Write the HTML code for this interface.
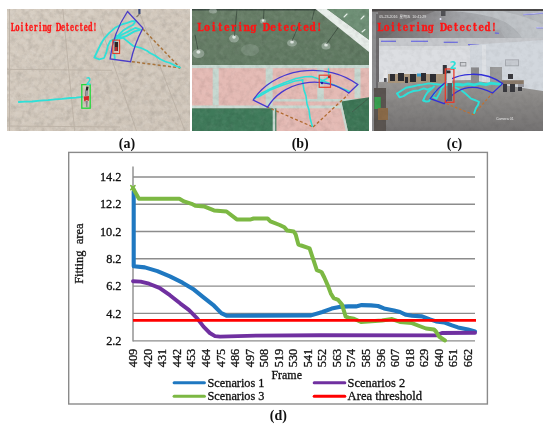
<!DOCTYPE html>
<html><head><meta charset="utf-8"><title>Loitering detection figure</title>
<style>html,body{margin:0;padding:0;background:#fff;width:550px;height:429px;overflow:hidden}svg{display:block}</style>
</head><body>
<svg width="550" height="429" viewBox="0 0 550 429">

<defs>
<filter id="nzd" x="0" y="0" width="1" height="1" color-interpolation-filters="sRGB">
<feTurbulence type="fractalNoise" baseFrequency="0.18" numOctaves="3" seed="7"/>
<feColorMatrix type="matrix" values="0 0 0 0 0  0 0 0 0 0  0 0 0 0 0  0.32 0 0 0 -0.13"/>
</filter>
<filter id="nzl" x="0" y="0" width="1" height="1" color-interpolation-filters="sRGB">
<feTurbulence type="fractalNoise" baseFrequency="0.2" numOctaves="3" seed="21"/>
<feColorMatrix type="matrix" values="0 0 0 0 1  0 0 0 0 1  0 0 0 0 1  0.32 0 0 0 -0.13"/>
</filter>
<linearGradient id="ga" x1="0" y1="0" x2="1" y2="1">
<stop offset="0" stop-color="#d8d0c4" stop-opacity="0.3"/>
<stop offset="1" stop-color="#c0b6aa" stop-opacity="0.3"/>
</linearGradient>
<linearGradient id="gb" x1="0" y1="0" x2="1" y2="1">
<stop offset="0" stop-color="#7a8870" stop-opacity="0.25"/>
<stop offset="1" stop-color="#4e6e52" stop-opacity="0.3"/>
</linearGradient>
<linearGradient id="gc1" x1="0" y1="0" x2="1" y2="0">
<stop offset="0" stop-color="#6e6a6a"/>
<stop offset="0.28" stop-color="#868486"/>
<stop offset="0.52" stop-color="#a2a4a8"/>
<stop offset="1" stop-color="#b8bcc0"/>
</linearGradient>
<linearGradient id="gc3" x1="0" y1="0" x2="0" y2="1">
<stop offset="0" stop-color="#9a9896"/>
<stop offset="0.35" stop-color="#8c8a88"/>
<stop offset="1" stop-color="#747272"/>
</linearGradient>
<linearGradient id="gc2" x1="0" y1="0" x2="0" y2="1">
<stop offset="0" stop-color="#808080" stop-opacity="0"/>
<stop offset="1" stop-color="#6a6a6a" stop-opacity="0.8"/>
</linearGradient>
</defs>
<rect width="550" height="429" fill="#fff"/>

<clipPath id="ca"><rect x="7" y="9" width="183" height="122"/></clipPath>
<g clip-path="url(#ca)">
<rect x="7" y="9" width="183" height="122" fill="#d4cabe"/>
<rect x="7" y="9" width="183" height="122" fill="url(#ga)"/>
<rect x="7" y="9" width="183" height="122" filter="url(#nzd)" opacity="0.7"/>
<rect x="7" y="9" width="183" height="122" filter="url(#nzl)"/>
<g stroke="#b9afa3" stroke-width="1" fill="none" opacity="0.8">
<line x1="7" y1="69.3" x2="112" y2="70.3"/>
<line x1="7" y1="126" x2="120" y2="127"/>
<line x1="62.8" y1="9" x2="74.7" y2="131"/>
<line x1="9.5" y1="9" x2="9.5" y2="131"/>
<line x1="138" y1="9" x2="185" y2="131"/>
<line x1="100" y1="25" x2="136.5" y2="131"/>
</g>
<text transform="translate(10.7,30.7) scale(0.6,1)" x="3.79 11.38 18.96 26.54 34.12 41.71 49.29 56.88 64.46 72.04 79.62 87.21 94.79 102.38 109.96 117.54 125.13 132.71 140.29" y="0" text-anchor="middle" font-family="DejaVu Serif, serif" font-weight="bold" font-size="10.8" fill="#ff1414" stroke="#ff1414" stroke-width="0.35">Loitering Detected!</text>
<!-- dashed lines -->
<g stroke="#a8743c" stroke-width="1.5" stroke-dasharray="3 2.2" fill="none">
<line x1="142.9" y1="29" x2="180.2" y2="67.9"/>
<line x1="131.9" y1="61.7" x2="180.2" y2="67.9"/>
</g>
<!-- cyan trajectories -->
<g stroke="#2ee0d8" stroke-width="1.8" fill="none" stroke-linejoin="round" stroke-linecap="round">
<polyline points="18.8,102.0 25.0,101.6 32.0,101.5 40.0,100.6 48.0,100.2 55.0,99.3 62.0,98.9 70.0,98.0 76.0,97.6 82.3,96.9"/>
<polyline points="180.0,67.5 176.0,66.0 170.0,63.0 165.0,61.5 160.0,59.0 155.0,55.5 150.0,53.0 147.0,50.8 140.5,47.8 133.2,46.0 127.2,41.1 123.5,38.1 116.2,35.6"/>
<polyline points="94.4,57.5 97.0,52.0 99.3,47.2 102.0,42.0 104.1,38.7 109.0,33.2 115.0,27.8 121.1,24.7 127.2,22.9 132.0,21.1 135.6,21.1 133.2,24.7 128.4,27.2 123.5,30.2 119.9,33.8 116.2,37.5 113.8,39.3 110.2,41.1 107.8,46.0 106.5,52.0 104.1,58.0 99.3,59.3 94.4,57.5"/>
<polyline points="115.0,41.1 121.1,35.0 128.4,31.4 135.6,27.8 140.5,29.6"/>
<polyline points="119.9,38.7 127.2,35.6 134.4,31.4 139.3,30.2"/>
<polyline points="114.4,54.4 114.8,59.3"/>
</g>
<!-- sector -->
<path d="M127.5,11.5 L142.9,28.1 Q134.5,44 130.6,61.7 L110.1,58.9 Q113,33 127.5,11.5 Z" fill="none" stroke="#4a3cc8" stroke-width="1.3"/>
<!-- person in red box -->
<rect x="114.5" y="42" width="3.5" height="9" fill="#2a2424"/>
<rect x="115" y="47" width="2.5" height="4" fill="#b03030"/>
<rect x="112.8" y="40.1" width="6.8" height="13.4" fill="none" stroke="#e0402a" stroke-width="1.1"/>
<!-- top person -->
<rect x="138.3" y="9" width="2.2" height="5" fill="#3a4a7a"/>
<line x1="139.5" y1="14" x2="136.5" y2="17" stroke="#8a7f70" stroke-width="1.5"/>
<!-- person 2 -->
<path d="M86.3,86.5 L88.6,86.8 L87.8,91 L86.9,96 L85.3,96 L85.6,91 Z" fill="#252122"/>
<path d="M85.6,90.5 L88,90.5 L87.6,96 L85.4,96 Z" fill="#9a9aa0"/>
<path d="M83.6,96.5 L89,96 L88.8,101 L86.5,100 L84.3,101.5 Z" fill="#d42828"/>
<path d="M85.4,101 L87.8,101 L87.4,107 L86.2,107 Z" fill="#8a8288"/>
<rect x="81.8" y="84.6" width="8.4" height="23.6" fill="none" stroke="#22d83a" stroke-width="1.3"/>
<text transform="translate(88.6,85.3) scale(0.72,1)" x="0" y="0" font-family="DejaVu Sans, sans-serif" font-weight="bold" font-size="10.4" fill="#2ee0d8" text-anchor="middle">2</text>
</g>

<clipPath id="cb"><rect x="192" y="9" width="177" height="122"/></clipPath>
<g clip-path="url(#cb)">
<rect x="192" y="9" width="177" height="122" fill="#e4bab4"/>
<rect x="192" y="9" width="177" height="58" fill="#647c66"/>
<rect x="192" y="9" width="177" height="58" fill="url(#gb)"/>
<rect x="192" y="9" width="177" height="1.5" fill="#3a4a40"/>
<!-- light patches (tree bases) -->
<g fill="#c8d4cc" opacity="0.45">
<ellipse cx="198.4" cy="53.5" rx="6" ry="4.5"/>
<ellipse cx="234" cy="38.5" rx="5" ry="4"/>
<ellipse cx="213" cy="11" rx="4" ry="2.5"/>
<ellipse cx="263" cy="21" rx="3" ry="2.5"/>
<ellipse cx="292" cy="43" rx="5" ry="3.5"/>
<ellipse cx="326" cy="46" rx="4.5" ry="3.5"/>
<ellipse cx="250" cy="50" rx="9" ry="6" opacity="0.4"/>
</g>
<g fill="#eef4f0" opacity="0.8">
<ellipse cx="198.4" cy="52" rx="2" ry="1.8"/>
<ellipse cx="234" cy="37" rx="1.8" ry="1.8"/>
<ellipse cx="292" cy="42" rx="1.8" ry="1.6"/>
<ellipse cx="326" cy="45" rx="1.8" ry="1.6"/>
<ellipse cx="263" cy="20.5" rx="1.2" ry="1.2"/>
</g>
<g stroke="#2c3a30" stroke-width="0.8" opacity="0.75">
<line x1="195" y1="34.8" x2="198" y2="50"/>
<line x1="237" y1="9" x2="234.5" y2="36"/>
<line x1="264" y1="9" x2="263.5" y2="19"/>
<line x1="300" y1="22" x2="292" y2="41"/>
<line x1="343.6" y1="20" x2="326.5" y2="44"/>
<line x1="314.6" y1="9" x2="312" y2="20"/>
</g>
<!-- white diagonal road -->
<polygon points="315.6,9 327,9 369,39.7 369,51.9" fill="#e8eeea"/>
<polygon points="327,9 369,9 369,39.7" fill="#6f9076"/>
<g stroke="#e8f0ea" stroke-width="1.1" stroke-linecap="round"><line x1="344" y1="17" x2="347" y2="14"/><line x1="361" y1="19" x2="364" y2="16"/><line x1="362" y1="32" x2="365" y2="29.5"/></g>
<!-- curb -->
<rect x="192" y="65" width="177" height="3.3" fill="#c8dad2"/>
<!-- pink tiles -->
<rect x="192" y="68.3" width="177" height="37.2" fill="#e4bab4"/>
<rect x="192" y="105.5" width="177" height="2.8" fill="#c8dad2"/>
<g fill="#c6d8d0">
<rect x="212.7" y="68.3" width="6" height="37.2"/>
<rect x="265.7" y="68.3" width="7" height="63"/>
<rect x="317.3" y="68.3" width="6.5" height="31"/>
<rect x="354.5" y="68.3" width="6" height="30"/>
<rect x="272" y="99" width="97" height="2.5"/>
</g>
<!-- lower grass -->
<rect x="192" y="108.3" width="84.4" height="23" fill="#3f7a5a"/>
<polygon points="341.3,101.4 369,97.3 369,131 347.9,131" fill="#3d7656"/>
<line x1="340.3" y1="101.5" x2="346.9" y2="131" stroke="#c8dad2" stroke-width="2"/>
<line x1="352" y1="112" x2="369" y2="98" stroke="#405848" stroke-width="0.8"/>

<rect x="272.7" y="108.3" width="2.5" height="23" fill="#c6d8d0"/>
<rect x="192" y="9" width="177" height="122" filter="url(#nzd)" opacity="0.55"/>
<rect x="192" y="9" width="177" height="122" filter="url(#nzl)" opacity="0.45"/>
<text transform="translate(197.2,30.5) scale(0.83,1)" x="3.98 11.93 19.88 27.83 35.78 43.73 51.69 59.64 67.59 75.54 83.49 91.45 99.40 107.35 115.30 123.25 131.20 139.16 147.11" y="0" text-anchor="middle" font-family="DejaVu Serif, serif" font-weight="bold" font-size="10.8" fill="#ff1414" stroke="#ff1414" stroke-width="0.35">Loitering Detected!</text>
<!-- dashed -->
<g stroke="#b06a30" stroke-width="1.3" stroke-dasharray="3 2.2" fill="none">
<line x1="266.5" y1="106.7" x2="313.1" y2="127"/>
<line x1="313.1" y1="127" x2="347.9" y2="94.8"/>
</g>
<!-- cyan -->
<g stroke="#2ee0d8" stroke-width="1.6" fill="none" stroke-linejoin="round" stroke-linecap="round">
<polyline points="254.0,99.0 262.0,93.0 272.0,88.0 285.0,82.5 296.0,78.5 305.0,76.8 311.5,76.6 319.0,79.0 326.0,82.0 334.0,85.0 341.0,88.0 349.5,91.5"/>
<polyline points="258.0,97.0 270.0,90.0 283.0,85.0 295.0,81.0 303.0,80.0"/>
<polyline points="302.4,79.9 304.0,90.0 306.0,96.0 307.0,104.0 309.0,110.0 310.0,118.0 312.3,126.2"/>
<polyline points="328.5,69.0 328.8,76.6"/>
<polyline points="320.0,82.0 326.0,79.0 330.0,76.0"/>
</g>
<!-- sector -->
<path d="M253.2,100 A68,57 0 0 1 357.8,84.5 L348.7,93.1 A52.5,45.5 0 0 0 267.6,107.2 Z" fill="none" stroke="#4638d0" stroke-width="1.3"/>
<rect x="319.2" y="75.2" width="11.3" height="12.1" fill="none" stroke="#e84030" stroke-width="1.2"/>
<circle cx="322" cy="83" r="1.2" fill="#2020a0"/>
<circle cx="329" cy="77" r="1.2" fill="#c02020"/>
</g>

<clipPath id="cc"><rect x="372" y="9" width="171" height="122"/></clipPath>
<g clip-path="url(#cc)">
<rect x="372" y="9" width="171" height="122" fill="#7d7b7b"/>
<!-- ceiling -->
<rect x="372" y="9" width="171" height="36" fill="url(#gc1)"/>
<path d="M372,9 L440,9 Q410,20 385,38 L372,40 Z" fill="#6c6868" opacity="0.55"/>
<path d="M420,10 Q480,10 505,22 Q518,30 522,38 L543,38 L543,24 Q520,14 495,10 Z" fill="#c4c8cc" opacity="0.75"/>
<path d="M430,30 L500,30 L505,38 L430,38 Z" fill="#9c9ca0" opacity="0.5"/>
<rect x="441" y="9" width="4.5" height="7" fill="#505054"/>
<circle cx="440.5" cy="19" r="1" fill="#e8e8ff"/>
<rect x="372" y="9" width="171" height="2" fill="#4a4848"/>
<!-- beam -->
<rect x="376" y="38" width="167" height="12" fill="#c6c8cc"/>
<rect x="376" y="46" width="167" height="4" fill="#d8dadd"/>
<g stroke="#7070e0" stroke-width="1.3">
<line x1="381" y1="41.3" x2="396" y2="41.3"/>
<line x1="411" y1="41.3" x2="428" y2="41.3"/>
<line x1="443.7" y1="42.3" x2="457.8" y2="42.3"/>
<line x1="468" y1="44.6" x2="479.3" y2="45"/>
<line x1="495" y1="33" x2="499" y2="33.3"/>
<line x1="523.3" y1="14.6" x2="543" y2="13.1"/>
<line x1="536.4" y1="27.7" x2="543" y2="27.7"/>
</g>
<g stroke="#f4f4ff" stroke-width="0.6">
<line x1="523.3" y1="14.3" x2="543" y2="12.8"/>
<line x1="536.4" y1="27.4" x2="543" y2="27.4"/>
</g>
<!-- walls -->
<rect x="376" y="50" width="167" height="32" fill="#dcdee2"/>
<polygon points="470,45 543,40 543,92 470,82" fill="#d2d7dd"/>
<rect x="482" y="45" width="4" height="40" fill="#dde0e4"/>
<rect x="505" y="59.3" width="14" height="7" fill="#a8acb2"/>
<rect x="506" y="60.3" width="12" height="5" fill="#c8ccd2"/>
<rect x="460.3" y="62.4" width="5.6" height="3.6" fill="#d4d6da" stroke="#8a8c90" stroke-width="0.8"/>
<rect x="442.8" y="65" width="4" height="18" fill="#34343a"/>
<rect x="383.5" y="70" width="3.5" height="8" fill="#e8e8ea"/><rect x="384" y="78" width="2.6" height="7" fill="#4a4a50"/>
<!-- pillar left -->
<rect x="372" y="12" width="6" height="119" fill="#8e8e90"/>
<rect x="376" y="14" width="3" height="117" fill="#6c6a6c"/>
<!-- floor -->
<polygon points="378,82 470,80 543,91 543,131 378,131" fill="url(#gc3)"/>
<!-- desks -->
<rect x="388" y="74" width="57" height="9" fill="#a8957c"/>
<g fill="#2e2e33">
<rect x="390" y="74" width="5" height="7"/><rect x="398" y="73" width="6" height="8"/><rect x="410" y="74" width="6" height="8"/>
<rect x="421" y="73" width="5" height="8"/><rect x="430" y="74" width="6" height="8"/><rect x="405" y="77" width="3" height="6"/>
</g>
<rect x="417" y="73.5" width="4" height="3" fill="#3aa0d0"/>
<rect x="471" y="67.4" width="8" height="21" fill="#8c8c8e"/>
<rect x="490" y="67" width="12" height="18" fill="#9a9a9a"/>
<rect x="501.4" y="80.2" width="22.4" height="4" fill="#8a7a6a"/>
<g fill="#3a3a3e"><rect x="503" y="84" width="4" height="8"/><rect x="510" y="84" width="5" height="8"/><rect x="518" y="84" width="4" height="7"/><rect x="508" y="74" width="5" height="5"/></g>
<rect x="518" y="84" width="6" height="3" fill="#9a9aa0"/>
<!-- left dark stuff -->
<rect x="374" y="88" width="12" height="43" fill="#5a5450"/>
<rect x="374.4" y="97" width="6.4" height="12" fill="#3aa050"/>
<rect x="378" y="108" width="10" height="12" fill="#8a6a48"/>
<rect x="372" y="9" width="171" height="122" filter="url(#nzd)" opacity="0.35"/>
<text x="379.2" y="17.5" font-family="Liberation Sans, 'Noto Sans CJK SC', sans-serif" font-size="3.6" fill="#e8e8e8" xml:space="preserve">05-23-2016  星期五  10:41:29</text>
<text x="496" y="119.5" font-family="Liberation Sans, sans-serif" font-size="3.6" fill="#e8e8e8">Camera 01</text>
<text transform="translate(377.2,30.6) scale(0.8,1)" x="3.94 11.83 19.72 27.61 35.49 43.38 51.27 59.16 67.04 74.93 82.82 90.71 98.59 106.48 114.37 122.26 130.14 138.03 145.92" y="0" text-anchor="middle" font-family="DejaVu Serif, serif" font-weight="bold" font-size="10.8" fill="#ff1414" stroke="#ff1414" stroke-width="0.35">Loitering Detected!</text>
<!-- dashed -->
<g stroke="#c07030" stroke-width="1.2" stroke-dasharray="2.5 2" fill="none">
<line x1="446.6" y1="103.8" x2="473.4" y2="114.6"/>
<line x1="473.4" y1="114.6" x2="492.6" y2="93"/>
</g>
<!-- cyan -->
<g stroke="#2ee0d8" stroke-width="1.9" fill="none" stroke-linejoin="round" stroke-linecap="round">
<polyline points="397.1,93.5 399.6,97.4 403.5,96.1 408.5,92.9 413.6,91.0 418.7,90.4 423.8,88.4 427.6,89.7 431.0,88.0"/>
<polyline points="397.1,93.5 400.9,91.0 406.0,87.8 412.4,86.5 417.4,85.3 422.5,84.6 428.9,83.4 434.0,84.0 440.3,84.6 446.0,84.8 452.0,85.3 462.0,85.3"/>
<polyline points="423.2,100.5 425.1,96.1 427.6,92.3 431.4,89.1 434.0,86.5"/>
<polyline points="423.2,100.5 426.0,101.5 428.9,101.2 431.4,97.4 434.0,94.2 436.0,91.0"/>
<polyline points="434.0,97.4 436.5,98.6 439.7,92.9 441.6,87.8 444.0,86.0"/>
<polyline points="455.0,87.4 461.0,90.0 466.0,94.0 471.0,98.6 476.0,100.5 479.0,101.8 478.0,105.0 476.0,108.0 474.2,113.0"/>
</g>
<g stroke="#2ee0d8" stroke-width="2.8" fill="none" stroke-linecap="round" stroke-linejoin="round">
<polyline points="452.0,85.0 458.0,84.2 463.0,85.0 468.0,83.8 474.0,84.8 480.0,83.5 486.0,84.6 491.0,83.2 496.0,83.8 500.0,84.2"/>
</g>
<!-- sector -->
<path d="M430.2,98.6 Q446.4,74.55 471,74.3 Q489.2,73.65 502.6,83.6 L492.6,93 Q463.6,77.65 444.2,103.7 Z" fill="none" stroke="#3230d8" stroke-width="1.3"/>
<!-- person -->
<rect x="447" y="70.5" width="3.5" height="3" fill="#2a2a2e"/>
<rect x="446.5" y="73.5" width="5.5" height="10" fill="#d8d8d8"/>
<rect x="447.5" y="83" width="4.5" height="18" fill="#555a60"/>
<rect x="445.3" y="69" width="8.6" height="33.3" fill="none" stroke="#e83a2a" stroke-width="1.3"/>
<text x="453.3" y="69.3" font-family="DejaVu Sans, sans-serif" font-weight="bold" font-size="10" fill="#2ee0d8" text-anchor="middle">2</text>
</g>


<rect x="68.7" y="152.4" width="418.7" height="251.6" fill="none" stroke="#8a8a8a" stroke-width="1.4"/>
<g stroke="#8c8c8c" stroke-width="1.4"><line x1="133.0" y1="177.0" x2="475.0" y2="177.0"/><line x1="133.0" y1="204.3" x2="475.0" y2="204.3"/><line x1="133.0" y1="231.5" x2="475.0" y2="231.5"/><line x1="133.0" y1="258.8" x2="475.0" y2="258.8"/><line x1="133.0" y1="286.1" x2="475.0" y2="286.1"/><line x1="133.0" y1="313.4" x2="475.0" y2="313.4"/>
<line x1="133.0" y1="166.5" x2="133.0" y2="341.5"/>
<line x1="133.0" y1="340.9" x2="475.0" y2="340.9"/>
</g>
<g font-family="Liberation Serif, serif" font-size="12.3" fill="#111" stroke="#111" stroke-width="0.3"><text x="121.5" y="181.1" text-anchor="end">14.2</text><text x="121.5" y="208.4" text-anchor="end">12.2</text><text x="121.5" y="235.6" text-anchor="end">10.2</text><text x="121.5" y="262.9" text-anchor="end">8.2</text><text x="121.5" y="290.2" text-anchor="end">6.2</text><text x="121.5" y="317.5" text-anchor="end">4.2</text><text x="121.5" y="344.7" text-anchor="end">2.2</text><text transform="translate(137.2,348.8) rotate(-90)" text-anchor="end">409</text><text transform="translate(151.8,348.8) rotate(-90)" text-anchor="end">420</text><text transform="translate(166.3,348.8) rotate(-90)" text-anchor="end">431</text><text transform="translate(180.8,348.8) rotate(-90)" text-anchor="end">442</text><text transform="translate(195.4,348.8) rotate(-90)" text-anchor="end">453</text><text transform="translate(209.9,348.8) rotate(-90)" text-anchor="end">464</text><text transform="translate(224.5,348.8) rotate(-90)" text-anchor="end">475</text><text transform="translate(239.1,348.8) rotate(-90)" text-anchor="end">486</text><text transform="translate(253.6,348.8) rotate(-90)" text-anchor="end">497</text><text transform="translate(268.2,348.8) rotate(-90)" text-anchor="end">508</text><text transform="translate(282.7,348.8) rotate(-90)" text-anchor="end">519</text><text transform="translate(297.2,348.8) rotate(-90)" text-anchor="end">530</text><text transform="translate(311.8,348.8) rotate(-90)" text-anchor="end">541</text><text transform="translate(326.3,348.8) rotate(-90)" text-anchor="end">552</text><text transform="translate(340.9,348.8) rotate(-90)" text-anchor="end">563</text><text transform="translate(355.4,348.8) rotate(-90)" text-anchor="end">574</text><text transform="translate(370.0,348.8) rotate(-90)" text-anchor="end">585</text><text transform="translate(384.6,348.8) rotate(-90)" text-anchor="end">596</text><text transform="translate(399.1,348.8) rotate(-90)" text-anchor="end">607</text><text transform="translate(413.6,348.8) rotate(-90)" text-anchor="end">618</text><text transform="translate(428.2,348.8) rotate(-90)" text-anchor="end">629</text><text transform="translate(442.8,348.8) rotate(-90)" text-anchor="end">640</text><text transform="translate(457.3,348.8) rotate(-90)" text-anchor="end">651</text><text transform="translate(471.9,348.8) rotate(-90)" text-anchor="end">662</text>
<text transform="translate(82.5,253.6) rotate(-90)" text-anchor="middle" font-size="12.5" xml:space="preserve" textLength="60.5" lengthAdjust="spacingAndGlyphs">Fitting  area</text>
<text x="271.4" y="379" textLength="30.6" lengthAdjust="spacingAndGlyphs">Frame</text>
<text x="207.5" y="386.5" textLength="57" lengthAdjust="spacingAndGlyphs">Scenarios 1</text>
<text x="207.5" y="399.8" textLength="57" lengthAdjust="spacingAndGlyphs">Scenarios 3</text>
<text x="347.6" y="386.5" textLength="57.5" lengthAdjust="spacingAndGlyphs">Scenarios 2</text>
<text x="347.6" y="399.8" textLength="74.5" lengthAdjust="spacingAndGlyphs">Area threshold</text>
</g>
<g fill="none" stroke-linejoin="round" stroke-linecap="round">
<polyline points="133.7,191.3 133.7,266.2 144.8,267.4 157.4,271.1 169.9,276.4 182.5,282.7 193.0,288.9 203.5,297.4 214.0,305.7 221.3,313.1 226.5,315.7 311.0,315.4 322.4,312.0 331.7,308.6 339.2,306.9 348.5,306.4 356.0,306.4 361.6,305.1 370.9,305.4 378.0,306.0 384.0,308.4 394.0,310.4 400.0,312.0 406.0,314.8 412.0,315.8 422.0,316.4 430.0,319.4 436.0,321.4 444.0,322.4 452.0,325.4 458.0,327.4 468.0,329.4 475.0,331.4" stroke="#1f78c1" stroke-width="4.1"/>
<polyline points="133.0,281.2 140.6,281.6 149.0,283.7 159.4,287.9 169.9,295.2 180.4,303.6 188.8,309.9 197.2,318.3 203.5,326.7 209.8,333.0 215.0,336.1 220.0,336.6 256.0,335.6 320.0,335.3 436.0,335.4 442.0,333.0 475.0,332.8" stroke="#7030a0" stroke-width="3.9"/>
<polyline points="133.0,188.1 138.9,198.7 179.4,198.8 184.0,201.4 191.6,203.8 195.3,205.7 204.6,206.6 214.0,210.4 226.5,211.5 236.8,219.4 250.8,219.4 253.6,218.5 267.6,218.5 270.4,221.3 279.7,225.0 284.4,227.3 287.2,230.6 293.7,231.5 295.6,234.3 298.4,244.6 301.2,245.5 309.6,248.3 311.4,253.9 314.0,261.7 316.8,270.1 321.5,272.0 324.3,277.5 328.0,285.9 330.8,293.4 333.6,298.1 338.2,299.9 342.0,304.6 345.7,316.7 348.5,317.7 354.0,318.7 361.0,322.0 382.0,320.5 392.0,319.1 400.0,321.9 412.0,323.1 418.0,325.5 426.0,328.5 434.0,329.5 436.0,331.5 439.0,336.5 445.0,340.5" stroke="#7cb843" stroke-width="4.0"/>
<path d="M130.8,185.6 L135,189.6 M135,185.6 L130.8,189.6" stroke="#7cb843" stroke-width="1.6"/>
<line x1="133.0" y1="320.4" x2="476" y2="320.4" stroke="#ff0000" stroke-width="2.7" stroke-linecap="butt"/>
<line x1="174.1" y1="382.8" x2="204.4" y2="382.8" stroke="#1f78c1" stroke-width="3"/>
<line x1="174.1" y1="396.3" x2="204.4" y2="396.3" stroke="#7cb843" stroke-width="3"/>
<line x1="314.2" y1="382.8" x2="344.8" y2="382.8" stroke="#7030a0" stroke-width="3"/>
<line x1="314.2" y1="396.3" x2="344.8" y2="396.3" stroke="#ff0000" stroke-width="3"/>
</g>
<g font-family="Liberation Serif, serif" font-size="14" font-weight="bold" fill="#111" text-anchor="middle">
<text x="126.9" y="147.6">(a)</text>
<text x="300.2" y="147.6">(b)</text>
<text x="454.5" y="147.6">(c)</text>
<text x="278.3" y="420.2">(d)</text>
</g>

</svg>
</body></html>
